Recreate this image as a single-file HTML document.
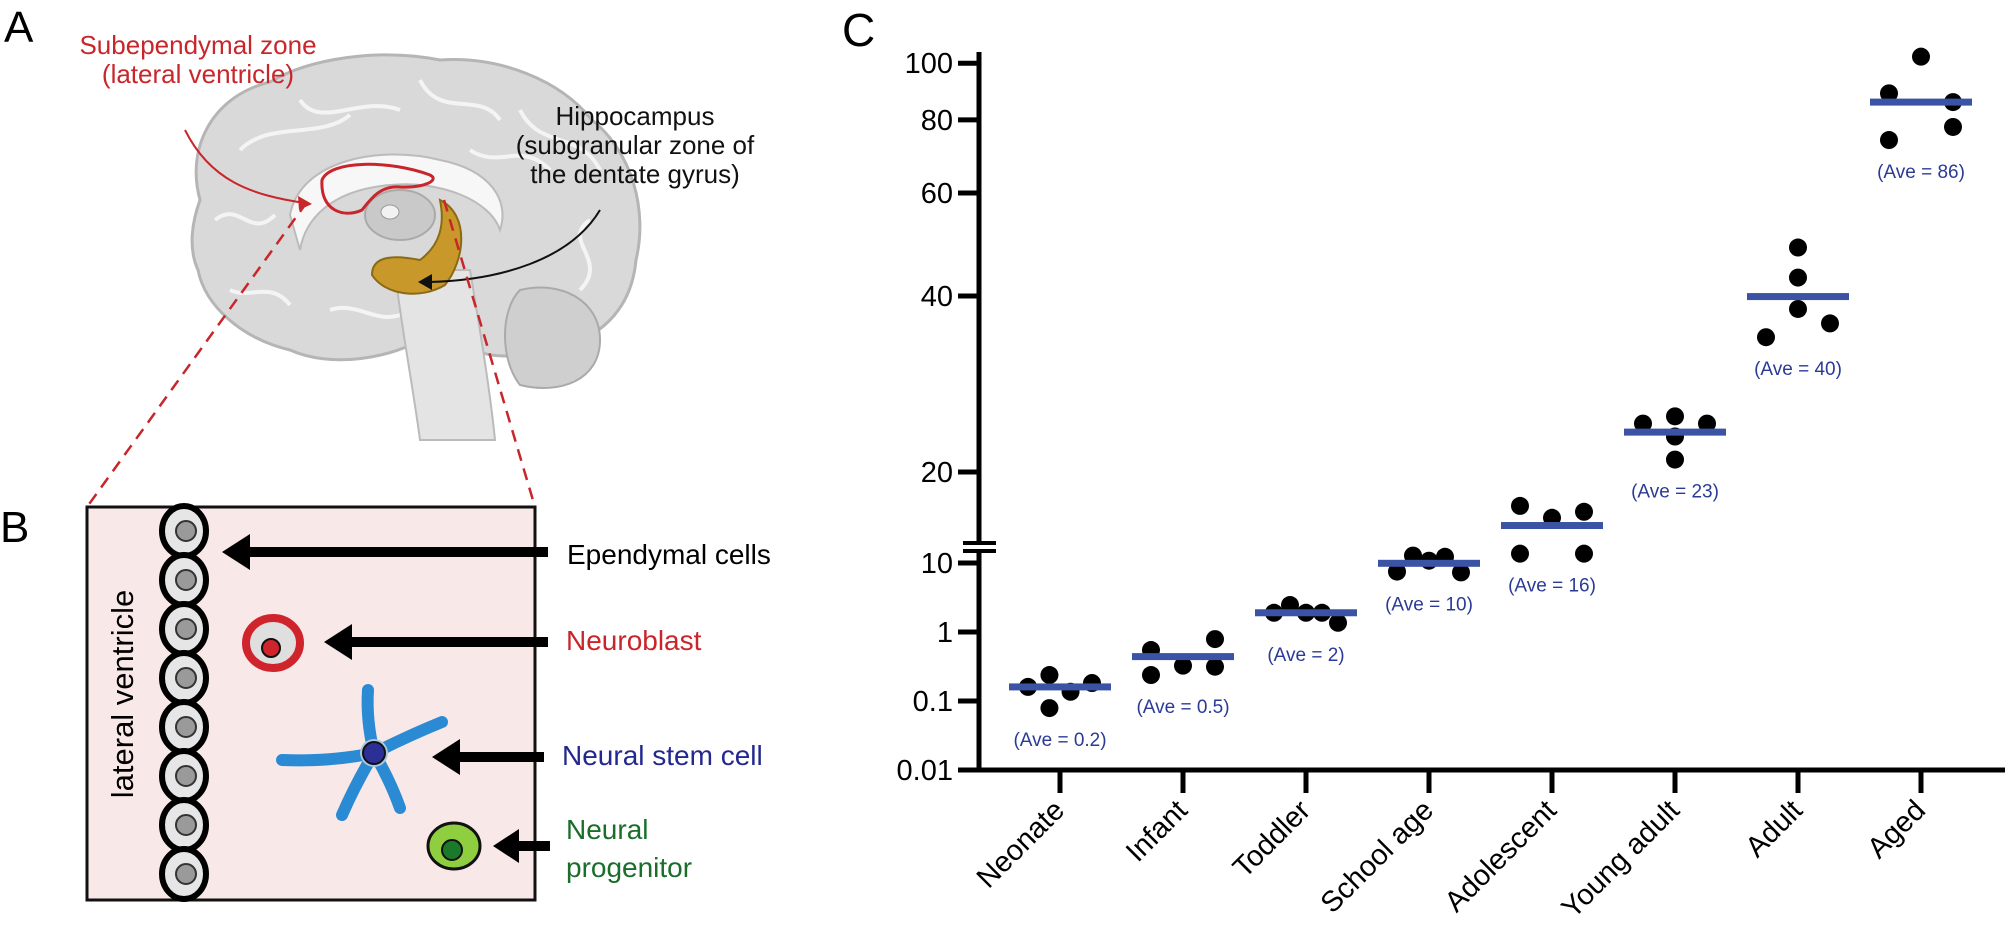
<!DOCTYPE html>
<html><head><meta charset="utf-8">
<style>
html,body{margin:0;padding:0;background:#fff;}
svg{display:block;font-family:"Liberation Sans",Arial,sans-serif;}
</style></head>
<body>
<svg id="fig" width="2007" height="934" viewBox="0 0 2007 934" xmlns="http://www.w3.org/2000/svg">
  <text x="4" y="42" font-size="44">A</text>
  <text x="0" y="542" font-size="44">B</text>
  <text x="842" y="46" font-size="46">C</text>

  <g>
    <path d="M200,200 C185,145 215,95 270,82 C310,58 380,48 440,60 C500,56 560,80 592,120 C632,152 648,210 636,260 C632,305 605,335 565,345 C530,355 500,360 480,352 L430,335 C390,360 330,368 290,350 C240,338 205,305 198,270 C188,248 192,222 200,200 Z" fill="#d9d9d9" stroke="#b5b5b5" stroke-width="3"/>
    <path d="M240,150 C270,120 320,140 350,115 M300,100 C320,130 360,95 400,110 M420,80 C440,120 480,90 500,120 M520,110 C540,150 580,130 600,170 M215,220 C240,200 250,240 275,215 M590,220 C560,240 610,260 580,290 M470,150 C500,170 520,140 550,170 M330,310 C360,300 380,330 410,310 M230,290 C250,300 270,280 290,305" fill="none" stroke="#f4f4f4" stroke-width="4"/>
    <path d="M290,215 C300,160 380,145 440,160 C490,170 510,200 500,230 C490,200 440,180 390,185 C330,190 305,220 300,250 Z" fill="#f7f7f7" stroke="#bbb" stroke-width="2"/>
    <path d="M520,290 C560,280 600,300 600,340 C600,380 560,395 520,385 C500,360 500,310 520,290 Z" fill="#cfcfcf" stroke="#aaa" stroke-width="2"/>
    <path d="M395,270 L470,270 C480,330 490,390 495,440 L420,440 C412,380 400,320 395,270 Z" fill="#e4e4e4" stroke="#bbb" stroke-width="2"/>
    <ellipse cx="400" cy="215" rx="35" ry="25" fill="#c9c9c9" stroke="#aaa" stroke-width="2"/>
    <ellipse cx="390" cy="212" rx="9" ry="7" fill="#f2f2f2" stroke="#999"/>
    <path d="M440,200 C470,215 465,260 445,285 C420,300 385,295 372,275 C372,255 395,255 420,260 C440,245 445,225 440,200 Z" fill="#c9982a" stroke="#8a6a14" stroke-width="2"/>
    <path d="M322,180 C330,160 390,160 430,175 C440,180 425,188 400,187 C380,185 370,200 362,210 C345,218 320,212 322,180 Z" fill="none" stroke="#c8262a" stroke-width="3"/>
  </g>
  <path d="M185,130 C210,180 250,195 305,203" fill="none" stroke="#c8262a" stroke-width="2"/>
  <polygon points="312,204 298,196 299,210" fill="#c8262a"/>
  <path d="M600,210 C570,260 500,280 430,282" fill="none" stroke="#111" stroke-width="2"/>
  <polygon points="418,282 432,274 432,290" fill="#111"/>
  <text x="198" y="54" font-size="26" fill="#c8262a" text-anchor="middle">Subependymal zone</text>
  <text x="198" y="83" font-size="26" fill="#c8262a" text-anchor="middle">(lateral ventricle)</text>
  <text x="635" y="125" font-size="26" fill="#111" text-anchor="middle">Hippocampus</text>
  <text x="635" y="154" font-size="26" fill="#111" text-anchor="middle">(subgranular zone of</text>
  <text x="635" y="183" font-size="26" fill="#111" text-anchor="middle">the dentate gyrus)</text>
  <line x1="307" y1="202" x2="87" y2="507" stroke="#c8262a" stroke-width="2.5" stroke-dasharray="12,8"/>
  <line x1="444" y1="200" x2="535" y2="507" stroke="#c8262a" stroke-width="2.5" stroke-dasharray="12,8"/>

  <rect x="87" y="507" width="448" height="393" fill="#f9e8e8" stroke="#111" stroke-width="3"/>
  <text transform="translate(133,694) rotate(-90)" font-size="31" text-anchor="middle">lateral ventricle</text>
  <g id="cells"></g>
  <g>
    <ellipse cx="273" cy="643" rx="27" ry="25" fill="#dfdfdf" stroke="#d0242c" stroke-width="8"/>
    <circle cx="271" cy="648" r="9" fill="#d0242c" stroke="#111" stroke-width="2"/>
  </g>
  <g stroke="#2a8ad4" stroke-width="12" stroke-linecap="round" fill="none">
    <path d="M374,753 Q366,720 368,690"/><path d="M374,753 Q410,735 442,722"/><path d="M374,753 Q355,785 342,815"/><path d="M374,753 Q390,780 400,808"/><path d="M374,753 Q330,762 282,760"/>
    <circle cx="374" cy="753" r="14" fill="#a9c7e0" stroke="none"/>
    <circle cx="374" cy="753" r="11" fill="#2c2f96" stroke="#111" stroke-width="2"/>
  </g>
  <g>
    <ellipse cx="454" cy="846" rx="26" ry="23" fill="#8fcf3f" stroke="#111" stroke-width="3"/>
    <circle cx="452" cy="850" r="10" fill="#1a7a2a" stroke="#111" stroke-width="2"/>
  </g>
  <g fill="#000">
    <rect x="240" y="547" width="308" height="10"/><polygon points="222,552 250,534 250,570"/>
    <rect x="342" y="637" width="206" height="10"/><polygon points="324,642 352,624 352,660"/>
    <rect x="450" y="752" width="94" height="10"/><polygon points="432,757 460,739 460,775"/>
    <rect x="510" y="841" width="40" height="10"/><polygon points="493,846 519,829 519,863"/>
  </g>
  <text x="567" y="564" font-size="28">Ependymal cells</text>
  <text x="566" y="650" font-size="28" fill="#c8262a">Neuroblast</text>
  <text x="562" y="765" font-size="28" fill="#23288f">Neural stem cell</text>
  <text x="566" y="839" font-size="28" fill="#1a6e2a">Neural</text>
  <text x="566" y="877" font-size="28" fill="#1a6e2a">progenitor</text>

  <g id="chart"></g>
</svg>
<script>
const categories = ["Neonate","Infant","Toddler","School age","Adolescent","Young adult","Adult","Aged"];
const neonateValues = [0.16,0.238,0.136,0.182,0.079];
const infantValues = [0.548,0.238,0.325,0.79,0.314];
const toddlerValues = [1.9,2.46,1.9,1.9,1.36];
const schoolAgeValues = [7.5,12.8,10.8,12.3,7.3];
const adolescentValues = [17.5,16.7,17.1,14.5,14.5];
const youngAdultValues = [24.2,24.9,24.2,23.0,21.0];
const adultValues = [48.4,43.0,38.0,35.9,34.0];
const agedValues = [102.6,88.8,85.8,77.8,73.9];
const groupValues = [neonateValues,infantValues,toddlerValues,schoolAgeValues,adolescentValues,youngAdultValues,adultValues,agedValues];
const jitter = [[-1,-0.33,0.33,1,-0.33],[-1,-1,0,1,1],[-1,-0.5,0,0.5,1],[-1,-0.5,0,0.5,1],[-1,0,1,-1,1],[-1,0,1,0,0],[0,0,0,1,-1],[0,-1,1,1,-1]];
const meanValues = [0.16,0.44,1.9,9.9,16.2,23.4,39.9,85.8];
const aveLabels = ["(Ave = 0.2)","(Ave = 0.5)","(Ave = 2)","(Ave = 10)","(Ave = 16)","(Ave = 23)","(Ave = 40)","(Ave = 86)"];
const upperTicks = [20,40,60,80,100];
const upperTickLabels = ["20","40","60","80","100"];
const lowerTicks = [0.01,0.1,1,10];
const lowerTickLabels = ["0.01","0.1","1","10"];

const NS = "http://www.w3.org/2000/svg";
const AX = 979, AXB = 770;
function yLow(v){ return 563 + 69*(1 - Math.log10(v)); }
function yUp(v){ return 472 - 254*Math.log(v/20); }
function yScale(v){ return v < 13.5 ? yLow(v) : yUp(v); }
function xScale(i){ return 1060 + i*123; }
function mk(tag, attrs, parent){ const e=document.createElementNS(NS,tag); for(const k in attrs) e.setAttribute(k,attrs[k]); parent.appendChild(e); return e; }

const chart = document.getElementById('chart');
let a = mk('line',{x1:AX,y1:52,x2:AX,y2:545,stroke:'#000','stroke-width':5},chart);


a = mk('line',{x1:AX,y1:549,x2:AX,y2:AXB+2,stroke:'#000','stroke-width':5},chart);


a = mk('line',{x1:AX-2,y1:AXB,x2:2005,y2:AXB,stroke:'#000','stroke-width':5},chart);


[543,551].forEach(function(yy){
  const b = mk('line',{x1:963,y1:yy,x2:996,y2:yy,stroke:'#000','stroke-width':4},chart);
  
  
});
function yTick(v,label){
  const yy = yScale(v);
  const t = mk('line',{x1:958,y1:yy,x2:AX,y2:yy,stroke:'#000','stroke-width':5},chart);
  
  
  const tx = mk('text',{x:953,y:yy+10,'font-size':29,'text-anchor':'end'},chart);
  tx.textContent = label;
  
  
}
upperTicks.forEach(function(v,i){ yTick(v,upperTickLabels[i]); });
lowerTicks.forEach(function(v,i){ yTick(v,lowerTickLabels[i]); });

categories.forEach(function(c,i){
  const x = xScale(i);
  const t = mk('line',{x1:x,y1:AXB,x2:x,y2:793,stroke:'#000','stroke-width':5},chart);
  
  
  const tx = mk('text',{transform:'translate('+(x+6)+',812) rotate(-45)','font-size':29,'text-anchor':'end'},chart);
  tx.textContent = c;
  
  

  const vals = groupValues[i];
  let lowest = 0;
  vals.forEach(function(v,j){
    const yy = yScale(v);
    if(yy > lowest) lowest = yy;
    const d = mk('circle',{cx:x + jitter[i][j]*32,cy:yy,r:9,fill:'#000'},chart);
    
    
  });
  const my = yScale(meanValues[i]);
  const bar = mk('rect',{x:x-51,y:my-3.5,width:102,height:7,fill:'#3a53a4'},chart);
  
  
  const lab = mk('text',{x:x,y:lowest+38,'font-size':19,'text-anchor':'middle',fill:'#2b3a96'},chart);
  lab.textContent = aveLabels[i];
  
  
});

const cells = document.getElementById('cells');
for(let k=0;k<8;k++){
  const cy = 531 + k*49;
  const e = mk('ellipse',{cx:184,cy:cy,rx:22,ry:25,fill:'#e6e6e6',stroke:'#000','stroke-width':6},cells);
  
  
  const n = mk('circle',{cx:186,cy:cy,r:10,fill:'#9a9a9a',stroke:'#333','stroke-width':2},cells);
  
  
}
</script>
</body></html>
